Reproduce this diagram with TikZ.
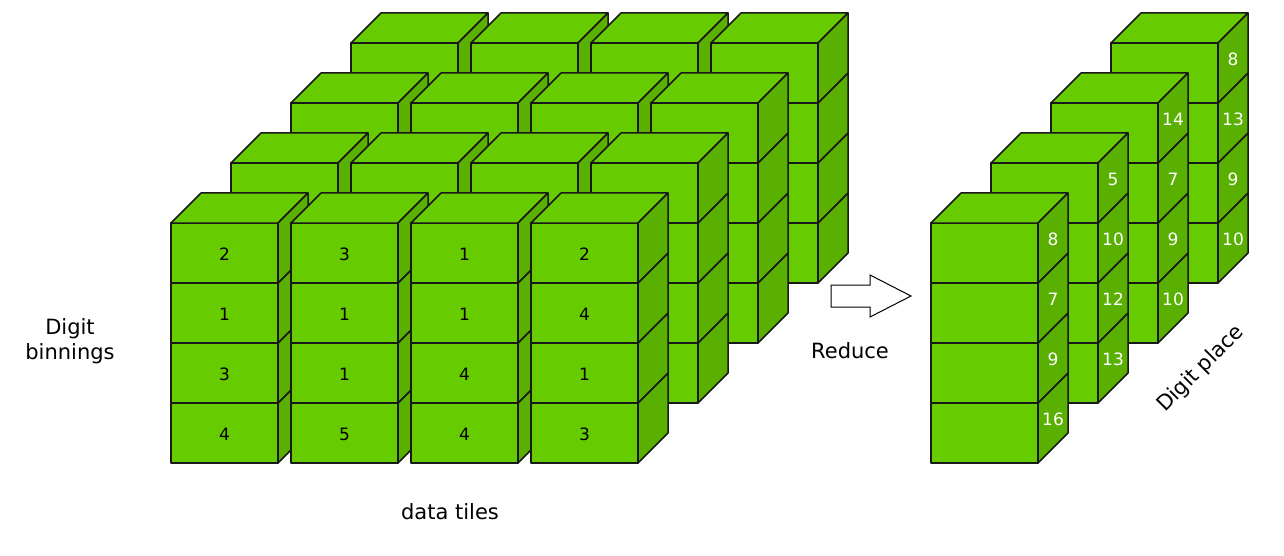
\documentclass[tikz,border=0pt]{standalone}
\usepackage{fontspec}
\setmainfont{DejaVu Sans}
\definecolor{gfront}{HTML}{66CC00}
\definecolor{gside}{HTML}{59B000}
\tikzset{face/.style={draw=black!90,line width=1.5pt,line join=round},
 num/.style={font=\fontsize{17}{17}\selectfont},
 wnum/.style={font=\fontsize{17}{17}\selectfont,text=white},
 lab/.style={font=\fontsize{21}{25}\selectfont,align=center}}
\newcommand{\mycube}[4]{%
 \fill[gfront,face] (#1,#2) rectangle ++(107,60);
 \fill[gfront,face] (#1,#2) -- ++(30,-30) -- ++(107,0) -- ++(-30,30) -- cycle;
 \fill[gside,face] (#1+107,#2) -- ++(30,-30) -- ++(0,60) -- ++(-30,30) -- cycle;
 \node[num] at (#1+53.5,#2+31) {#3};
 \node[wnum] at (#1+122,#2+16) {#4};}
\begin{document}
\begin{tikzpicture}[x=1pt,y=-1pt]
\useasboundingbox (0,0) rectangle (1284,556);
\foreach \d in {3,2,1} {
 \foreach \c in {0,1,2,3} {
  \foreach \r in {3,2,1,0} {
   \mycube{171+120*\c+60*\d}{223+60*\r-60*\d}{}{}
 }}}
\foreach \c/\la/\lb/\lc/\ld in {0/2/1/3/4,1/3/1/1/5,2/1/1/4/4,3/2/4/1/3} {
  \mycube{171+120*\c}{403}{\ld}{}
  \mycube{171+120*\c}{343}{\lc}{}
  \mycube{171+120*\c}{283}{\lb}{}
  \mycube{171+120*\c}{223}{\la}{}
}
\foreach \d/\la/\lb/\lc/\ld in {3/8/13/9/10,2/14/7/9/10,1/5/10/12/13,0/8/7/9/16} {
  \mycube{931+60*\d}{403-60*\d}{}{\ld}
  \mycube{931+60*\d}{343-60*\d}{}{\lc}
  \mycube{931+60*\d}{283-60*\d}{}{\lb}
  \mycube{931+60*\d}{223-60*\d}{}{\la}
}
\draw[line width=1pt,fill=white] (831,285) -- (870,285) -- (870,275) -- (911,296) -- (870,317) -- (870,307) -- (831,307) -- cycle;
\node[lab] (red) at (850,351) {Reduce};
\node[lab] (dig) at (70,341) {Digit\\binnings};
\node[lab] (dt) at (450,512) {data tiles};
\node[lab,rotate=45,inner sep=0pt] (dp) at (1201,369) {Digit place};
\end{tikzpicture}
\end{document}
